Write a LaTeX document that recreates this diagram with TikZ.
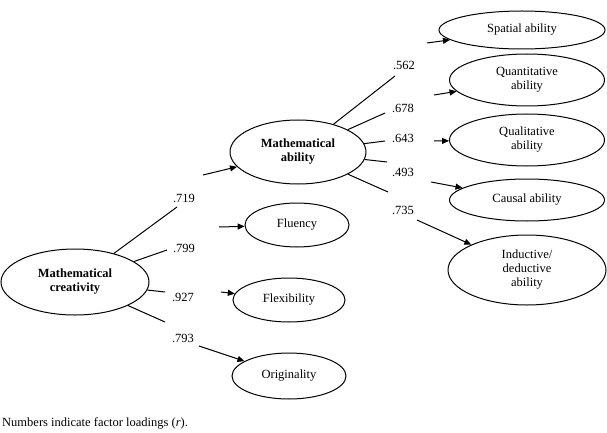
\documentclass[tikz,border=0pt]{standalone}
\usepackage{fontspec}
\setmainfont{Liberation Serif}
\usetikzlibrary{shapes.geometric,arrows.meta}
\begin{document}
\begin{tikzpicture}[x=1pt,y=-1pt,
  el/.style={ellipse,draw,line width=1pt,inner sep=0pt,align=center,font=\fontsize{12.5}{14}\selectfont},
  lb/.style={inner sep=1pt,font=\fontsize{12.5}{14}\selectfont},
  ln/.style={line width=1pt},
  ar/.style={line width=1pt,-{Triangle[length=7pt,width=6pt]}}]
\useasboundingbox (0,0) rectangle (607,433);
\node[el,minimum width=148,minimum height=66,font=\bfseries\fontsize{12.5}{14}\selectfont] (cre) at (75,282) {Mathematical\\creativity};
\node[el,minimum width=136,minimum height=64,font=\bfseries\fontsize{12.5}{14}\selectfont] (ab) at (298,152) {Mathematical\\ability};
\node[el,minimum width=104,minimum height=44] (flu) at (297,225) {Fluency};
\node[el,minimum width=112,minimum height=44] (fle) at (289,300) {Flexibility};
\node[el,minimum width=114,minimum height=46] (ori) at (289,376) {Originality};
\node[el,minimum width=166,minimum height=38] (sp) at (522,30) {Spatial ability};
\node[el,minimum width=155,minimum height=52] (qn) at (527,80) {Quantitative\\ability};
\node[el,minimum width=155,minimum height=52] (ql) at (527,140) {Qualitative\\ability};
\node[el,minimum width=155,minimum height=42] (ca) at (527,200) {Causal ability};
\node[el,minimum width=158,minimum height=70] (in) at (527,270) {Inductive/\\deductive\\ability};
\node[lb] (l1) at (184,198) {.719};
\node[lb] (l2) at (184,248) {.799};
\node[lb] (l3) at (183,297) {.927};
\node[lb] (l4) at (183,338) {.793};
\node[lb] (m1) at (404,65) {.562};
\node[lb] (m2) at (403,108) {.678};
\node[lb] (m3) at (403,138) {.643};
\node[lb] (m4) at (403,172) {.493};
\node[lb] (m5) at (403,210) {.735};
% free ends of the broken connectors
\coordinate (a1) at (177,207); \coordinate (b1) at (203,175);
\coordinate (a2) at (167,250); \coordinate (b2) at (219,227);
\coordinate (a3) at (165,292); \coordinate (b3) at (221,292);
\coordinate (a4) at (165,322); \coordinate (b4) at (199,346);
\coordinate (p1) at (395,76);  \coordinate (q1) at (427,43);
\coordinate (p2) at (385,113); \coordinate (q2) at (434,95);
\coordinate (p3) at (385,141); \coordinate (q3) at (434,141);
\coordinate (p4) at (387,162); \coordinate (q4) at (431,182);
\coordinate (p5) at (388,192); \coordinate (q5) at (417,220);
\draw[ln] (cre) -- (a1); \draw[ar] (b1) -- (ab);
\draw[ln] (cre) -- (a2); \draw[ar] (b2) -- (flu);
\draw[ln] (cre) -- (a3); \draw[ar] (b3) -- (fle);
\draw[ln] (cre) -- (a4); \draw[ar] (b4) -- (ori);
\draw[ln] (ab) -- (p1); \draw[ar] (q1) -- (sp);
\draw[ln] (ab) -- (p2); \draw[ar] (q2) -- (qn);
\draw[ln] (ab) -- (p3); \draw[ar] (q3) -- (ql);
\draw[ln] (ab) -- (p4); \draw[ar] (q4) -- (ca);
\draw[ln] (ab) -- (p5); \draw[ar] (q5) -- (in);
\node[anchor=west,inner sep=0pt,font=\fontsize{12.5}{14}\selectfont] (cap) at (2,423) {Numbers indicate factor loadings (\textit{r}).};
\end{tikzpicture}
\end{document}
